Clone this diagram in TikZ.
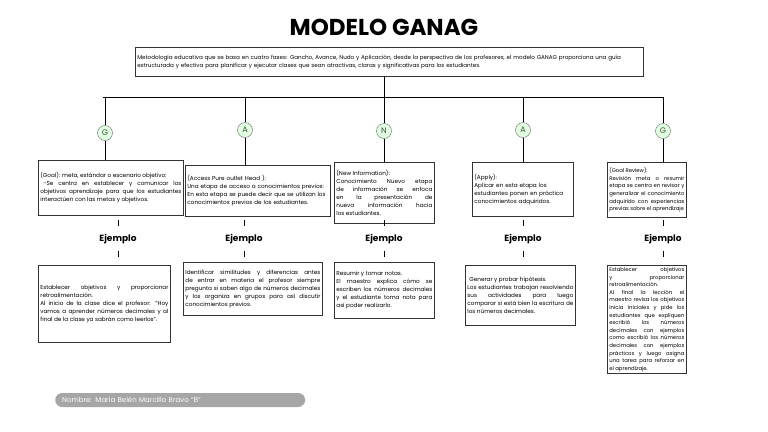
\documentclass[tikz,border=0pt]{standalone}
\usepackage{fontspec}
\setmainfont{Poppins}
\hyphenpenalty=10000
\exhyphenpenalty=10000
\tolerance=9999
\emergencystretch=20pt
\begin{document}
\begin{tikzpicture}[x=1pt,y=-1pt,
  txt/.style={draw=black!80,line width=0.8pt,anchor=north west,inner sep=2pt,align=justify,font=\fontsize{5.7}{8}\selectfont},
  circ/.style={circle,draw=black!60,fill=green!12,minimum size=15pt,inner sep=0pt,font=\fontsize{8}{9}\selectfont,text=black!70},
  ej/.style={font=\bfseries\fontsize{9}{10}\selectfont},
  ln/.style={line width=0.9pt}]
\useasboundingbox (0,0) rectangle (768,431);
\node (title) at (384,27) {\bfseries\fontsize{23}{24}\selectfont MODELO GANAG};
\node[txt,text width=504pt,minimum height=29pt,anchor=north west,align=left,font=\fontsize{5.6}{8}\selectfont] (intro) at (135,47) {Metodología educativa que se basa en cuatro fases: Gancho, Avance, Nudo y Aplicación, desde la perspectiva de los profesores, el modelo GANAG proporciona una guía estructurada y efectiva para planificar y ejecutar clases que sean atractivas, claras y significativas para los estudiantes.};
\coordinate (hub) at (384,97);
\coordinate (hl) at (103,97);
\coordinate (hr) at (663,97);
\draw[ln] (intro.south -| hub) -- (hub);
\draw[ln] (hl) -- (hr);
\node[circ] (c1) at (105,133) {G};
\node[circ] (c2) at (245,130) {A};
\node[circ] (c3) at (384,131) {N};
\node[circ] (c4) at (523,130) {A};
\node[circ] (c5) at (663,131) {G};
\foreach \c in {c1,c2,c3,c4,c5}{\draw[ln] (\c |- hub) -- (\c.north);}
% row 1
\node[txt,text width=141pt,minimum height=55pt] (b1) at (38,160) {(Goal): meta, estándar o escenario objetivo:\\ \hspace*{3pt}-Se centra en establecer y comunicar los objetivos aprendizaje para que los estudiantes interactúen con las metas y objetivos.};
\node[txt,text width=141pt,minimum height=51pt,align=left] (b2) at (185,165) {(Access Pure outlet Head ):\\ Una etapa de acceso a conocimientos previos: En esta etapa se puede decir que se utilizan los conocimientos previos de los estudiantes.};
\node[txt,text width=96pt,minimum height=61pt] (b3) at (334,162) {(New Information):\\ Conocimiento Nuevo etapa de información se enfoca en la presentación de nueva información hacia los estudiantes.};
\node[txt,text width=97pt,minimum height=54pt,align=left] (b4) at (472,162) {(Apply):\\ Aplicar en esta etapa los estudiantes ponen en práctica conocimientos adquiridos.};
\node[txt,text width=75pt,minimum height=55pt,font=\fontsize{5.3}{7.6}\selectfont] (b5) at (607,162) {(Goal Review):\\ Revisión meta o resumir etapa se centra en revisar y generalizar el conocimiento adquirido con experiencias previas sobre el aprendizaje};
% Ejemplo
\node[ej] (e1) at (118,239) {Ejemplo};
\node[ej] (e2) at (244,239) {Ejemplo};
\node[ej] (e3) at (384,239) {Ejemplo};
\node[ej] (e4) at (523,239) {Ejemplo};
\node[ej] (e5) at (663,239) {Ejemplo};
% row 2
\node[txt,text width=128pt,minimum height=77pt] (d1) at (38,265) {Establecer objetivos y proporcionar retroalimentación.\\ Al inicio de la clase dice el profesor: ``Hoy vamos a aprender números decimales y al final de la clase ya sabrán como leerlos''.};
\node[txt,text width=135pt,minimum height=53pt] (d2) at (183,262) {Identificar similitudes y diferencias antes de entrar en materia el profesor siempre pregunta si saben algo de números decimales y los organiza en grupos para así discutir conocimientos previos.};
\node[txt,text width=96pt,minimum height=56pt] (d3) at (334,262) {Resumir y tomar notas.\\ El maestro explica cómo se escriben los números decimales y el estudiante toma nota para así poder realizarlo.};
\node[txt,text width=106pt,minimum height=60pt] (d4) at (465,265) {\hspace*{2pt}Generar y probar hipótesis.\\ Los estudiantes trabajan resolviendo sus actividades para luego comparar si está bien la escritura de los números decimales.};
\node[txt,text width=75pt,minimum height=90pt,font=\fontsize{5.3}{7.6}\selectfont] (d5) at (607,265) {Establecer objetivos y proporcionar retroalimentación.\\ Al final la lección el maestro revisa los objetivos inicia iniciales y pide los estudiantes que expliquen escribió los números decimales con ejemplos como escribió los números decimales con ejemplos prácticos y luego asigna una tarea para reforzar en el aprendizaje.};
% connectors
\foreach \i in {1,...,5}{
  \draw[ln] (c\i.south) -- (c\i.south |- b\i.north);
  \draw[ln] ([yshift=5pt]e\i.north) -- ([yshift=11pt]e\i.north);
  \draw[ln] ([yshift=-4pt]e\i.south) -- ([yshift=-10pt]e\i.south);
}
\node[fill=black!35,rounded corners=7pt,minimum width=250pt,minimum height=14pt,anchor=west,text=white,font=\fontsize{7}{8}\selectfont,text width=236pt,align=left] (foot) at (55,400) {Nombre: Maria Belén Marcillo Bravo ``B''};
\end{tikzpicture}
\end{document}
